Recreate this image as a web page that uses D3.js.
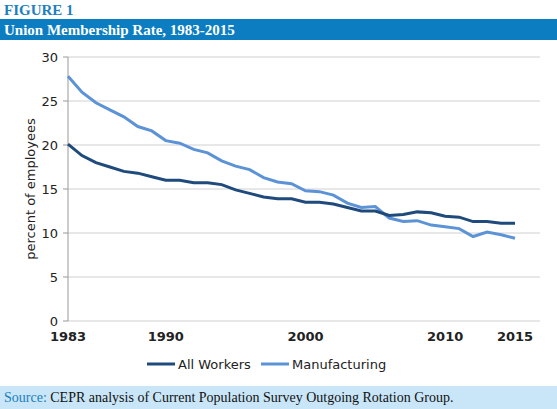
<!DOCTYPE html><html><head><meta charset="utf-8">
<script src="https://cdn.jsdelivr.net/npm/d3@7"></script>
<style>body{margin:0}svg{display:block}</style></head><body>
<script>
const years=d3.range(1983,2016);
const allWorkers=[20.1,18.8,18.0,17.5,17.0,16.8,16.4,16.0,16.0,15.7,15.7,15.5,14.9,14.5,14.1,13.9,13.9,13.5,13.5,13.3,12.9,12.5,12.5,12.0,12.1,12.4,12.3,11.9,11.8,11.3,11.3,11.1,11.1];
const manufacturing=[27.8,26.0,24.8,24.0,23.2,22.1,21.6,20.5,20.2,19.5,19.1,18.2,17.6,17.2,16.3,15.8,15.6,14.8,14.7,14.3,13.4,12.9,13.0,11.7,11.3,11.4,10.9,10.7,10.5,9.6,10.1,9.8,9.4];
const xTicks=[1983,1990,2000,2010,2015];
const yTicks=[0,5,10,15,20,25,30];
const W=557,H=409;
const svg=d3.select("body").append("svg").attr("width",W).attr("height",H);
const serif="'Liberation Serif', serif";
svg.append("text").attr("x",4).attr("y",15).attr("fill","#1b7fc0").attr("font-family",serif).attr("font-weight","bold").attr("font-size",15).text("FIGURE 1");
svg.append("rect").attr("x",0).attr("y",19).attr("width",W).attr("height",21).attr("fill","#0b7dc0");
svg.append("text").attr("x",4).attr("y",35).attr("fill","#fff").attr("font-family",serif).attr("font-weight","bold").attr("font-size",15).text("Union Membership Rate, 1983-2015");
svg.append("rect").attr("x",0).attr("y",386).attr("width",W).attr("height",23).attr("fill","#c9e6f8");
const st=svg.append("text").attr("x",4).attr("y",402).attr("font-family",serif).attr("font-size",14);
st.append("tspan").attr("fill","#1b7fc0").text("Source:");
st.append("tspan").attr("fill","#111").text(" CEPR analysis of Current Population Survey Outgoing Rotation Group.");
const x=d3.scaleLinear().domain([1983,2015]).range([68,515]);
const y=d3.scaleLinear().domain([0,30]).range([321,57]);
const g=svg.append("g").attr("font-family","'DejaVu Sans', sans-serif");
g.selectAll(".gl").data(yTicks).join("line").attr("x1",68).attr("x2",540).attr("y1",d=>y(d)).attr("y2",d=>y(d)).attr("stroke","#d0d0d0");
g.append("line").attr("x1",68).attr("x2",68).attr("y1",57).attr("y2",321).attr("stroke","#999");
g.selectAll(".yt").data(yTicks).join("line").attr("x1",63).attr("x2",68).attr("y1",d=>y(d)).attr("y2",d=>y(d)).attr("stroke","#999");
g.selectAll(".yl").data(yTicks).join("text").attr("x",58).attr("y",d=>y(d)+5).attr("text-anchor","end").attr("font-size",13).attr("fill","#222").text(d=>d);
g.selectAll(".xl").data(xTicks).join("text").attr("x",d=>x(d)).attr("y",341).attr("text-anchor","middle").attr("font-size",13).attr("font-weight","bold").attr("fill","#222").text(d=>d);
g.append("text").attr("transform","translate(35,189) rotate(-90)").attr("text-anchor","middle").attr("font-size",13).attr("fill","#222").text("percent of employees");
const line=d3.line().x((d,i)=>x(years[i])).y(d=>y(d));
g.append("path").datum(manufacturing).attr("d",line).attr("fill","none").attr("stroke","#5b93d6").attr("stroke-width",3);
g.append("path").datum(allWorkers).attr("d",line).attr("fill","none").attr("stroke","#1f4a7c").attr("stroke-width",3);
const lg=[["All Workers","#1f4a7c",147],["Manufacturing","#5b93d6",261]];
lg.forEach(([t,c,lx])=>{g.append("line").attr("x1",lx).attr("x2",lx+28).attr("y1",364).attr("y2",364).attr("stroke",c).attr("stroke-width",3);
g.append("text").attr("x",lx+31).attr("y",369).attr("font-size",13).attr("fill","#222").text(t);});
</script></body></html>
